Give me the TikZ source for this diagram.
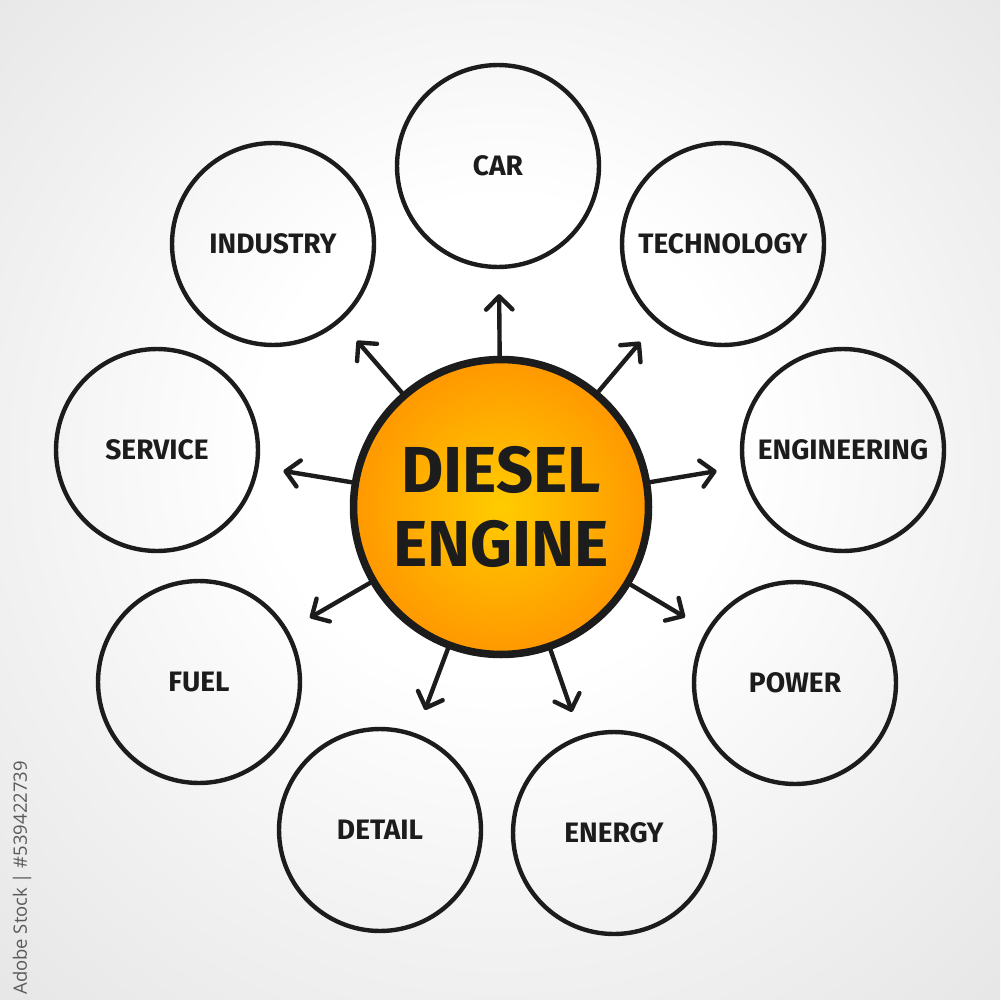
\documentclass[tikz,border=0pt]{standalone}
\usepackage{fontspec}
\setmainfont{Fira Sans}
\newfontfamily\stockfont{Open Sans}
\usetikzlibrary{arrows.meta}
\definecolor{ink}{HTML}{1C1C1C}
\definecolor{sunin}{HTML}{FFCC00}
\definecolor{sunout}{HTML}{FF9800}
\definecolor{bgmid}{HTML}{F1F1F1}
\definecolor{bgedge}{HTML}{E3E3E3}
\definecolor{stockgray}{HTML}{5A5A5A}
\pgfdeclareradialshading{sun}{\pgfpoint{0bp}{0bp}}{color(0bp)=(sunin); color(25bp)=(sunout); color(50bp)=(sunout)}
\pgfdeclareradialshading{bgshade}{\pgfpoint{0bp}{4bp}}{color(0bp)=(white); color(12bp)=(white); color(25bp)=(bgmid); color(40bp)=(bgedge); color(50bp)=(bgedge)}
\begin{document}
\begin{tikzpicture}[x=0.02cm,y=-0.02cm,
  bubble/.style={circle,draw=ink,line width=2.5pt,minimum size=4.04cm,inner sep=0pt,
    font=\bfseries\fontsize{16}{19}\selectfont,text=ink},
  hub/.style={circle,draw=ink,line width=4.3pt,minimum size=5.9cm,inner sep=0pt,
    shade,shading=sun,align=center,text=ink,
    font=\bfseries\fontsize{37}{42}\selectfont},
  spoke/.style={draw=ink,line width=2.5pt,line cap=round,
    -{Straight Barb[length=7.5pt,width=15pt,line cap=round,line join=round]},shorten >=0.5cm}]
\useasboundingbox (0,0) rectangle (1000,1000);
\shade[shading=bgshade] (0,0) rectangle (1000,1000);

\node[hub] (hub) at (501,507) {DIESEL\\ENGINE};

\node[bubble] (car) at (498,166) {CAR};
\node[bubble] (tech) at (723,244) {TECHNOLOGY};
\node[bubble] (ind) at (273,244) {INDUSTRY};
\node[bubble] (eng) at (843,450) {ENGINEERING};
\node[bubble] (serv) at (157,450) {SERVICE};
\node[bubble] (pow) at (795,683) {POWER};
\node[bubble] (fuel) at (199,682) {FUEL};
\node[bubble] (ener) at (614,833) {ENERGY};
\node[bubble] (det) at (380,830) {DETAIL};

\foreach \t in {car,tech,ind,eng,serv,pow,fuel,ener,det}
  \draw[spoke] (hub) -- (\t);

\node[rotate=90,anchor=west,inner sep=0pt,text=stockgray,
  font=\stockfont\fontsize{10.5}{12}\selectfont] (stock) at (22,995) {Adobe Stock | \#539422739};
\end{tikzpicture}
\end{document}
